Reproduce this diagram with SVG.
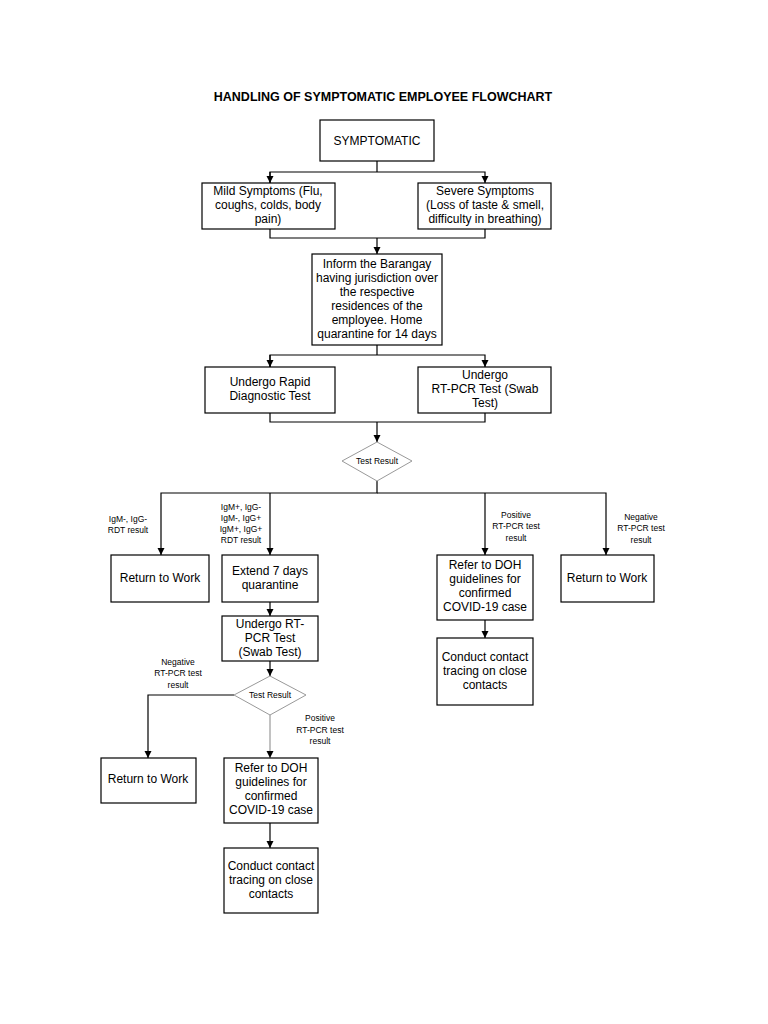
<svg xmlns="http://www.w3.org/2000/svg" width="768" height="1024" viewBox="0 0 768 1024">
<style>
.b{fill:#fff;stroke:#000;stroke-width:1.2}
.t{font-family:"Liberation Sans",Arial,sans-serif;font-size:12px;text-anchor:middle;fill:#000}
.s{font-family:"Liberation Sans",Arial,sans-serif;font-size:8.5px;text-anchor:middle;fill:#000}
.c{fill:none;stroke:#000;stroke-width:1.2}
.g{stroke:#999}
</style>
<defs><marker id="a" viewBox="0 0 10 10" refX="10" refY="5" markerWidth="6" markerHeight="6" orient="auto"><path d="M0,0L10,5L0,10z" fill="#000"/></marker></defs>
<rect width="768" height="1024" fill="#fff"/>
<text x="383" y="101" style="font-family:'Liberation Sans',Arial,sans-serif;font-size:12.5px;font-weight:bold" text-anchor="middle">HANDLING OF SYMPTOMATIC EMPLOYEE FLOWCHART</text>
<g id="connectors">
<path class="c" d="M377,161V172H270V183M377,172H485V183" marker-end="url(#a)"/>
<path class="c" d="M270,172V183" marker-end="url(#a)"/>
<path class="c" d="M270,229V238H485V229M377,238V254" marker-end="url(#a)"/>
<path class="c" d="M377,345V355H270V367M377,355H485V367" marker-end="url(#a)"/>
<path class="c" d="M270,355V367" marker-end="url(#a)"/>
<path class="c" d="M270,413V422H485V413M377,422V442" marker-end="url(#a)"/>
<path class="c" d="M377,481V493H161V555" marker-end="url(#a)"/>
<path class="c" d="M377,493H606V555" marker-end="url(#a)"/>
<path class="c" d="M270,493V555" marker-end="url(#a)"/>
<path class="c" d="M485,493V555" marker-end="url(#a)"/>
<path class="c" d="M270,602V616" marker-end="url(#a)"/>
<path class="c" d="M270,661V676" marker-end="url(#a)"/>
<path class="c" d="M234,695H148V758" marker-end="url(#a)"/>
<path class="c g" d="M270,715V758" marker-end="url(#a)"/>
<path class="c" d="M270,823V848" marker-end="url(#a)"/>
<path class="c" d="M485,620V638" marker-end="url(#a)"/>
</g>
<g id="symptomatic"><rect class="b" x="320" y="120" width="114" height="41"/><text class="t" x="377" y="145">SYMPTOMATIC</text></g>
<g id="mild"><rect class="b" x="202" y="183" width="133" height="46"/><text class="t" x="268" y="195">Mild Symptoms (Flu,</text><text class="t" x="268" y="209">coughs, colds, body</text><text class="t" x="268" y="223">pain)</text></g>
<g id="severe"><rect class="b" x="418" y="183" width="133" height="46"/><text class="t" x="485" y="195">Severe Symptoms</text><text class="t" x="485" y="209">(Loss of taste &amp; smell,</text><text class="t" x="485" y="223">difficulty in breathing)</text></g>
<g id="inform"><rect class="b" x="312" y="254" width="130" height="91"/><text class="t" x="377" y="268">Inform the Barangay</text><text class="t" x="377" y="282">having jurisdiction over</text><text class="t" x="377" y="296">the respective</text><text class="t" x="377" y="310">residences of the</text><text class="t" x="377" y="324">employee. Home</text><text class="t" x="377" y="338">quarantine for 14 days</text></g>
<g id="rapid"><rect class="b" x="205" y="367" width="130" height="46"/><text class="t" x="270" y="386">Undergo Rapid</text><text class="t" x="270" y="400">Diagnostic Test</text></g>
<g id="rtpcr"><rect class="b" x="418" y="367" width="133" height="46"/><text class="t" x="485" y="379">Undergo</text><text class="t" x="485" y="393">RT-PCR Test (Swab</text><text class="t" x="485" y="407">Test)</text></g>
<g id="dec1"><path d="M342,461L377,442L412,461L377,481z" fill="#fff" stroke="#999" stroke-width="1"/><text class="s" x="377" y="464">Test Result</text></g>
<text class="s" x="128" y="522">IgM-, IgG-</text><text class="s" x="128" y="533">RDT result</text>
<text class="s" x="241" y="510">IgM+, IgG-</text><text class="s" x="241" y="521">IgM-, IgG+</text><text class="s" x="241" y="532">IgM+, IgG+</text><text class="s" x="241" y="543">RDT result</text>
<text class="s" x="516" y="518">Positive</text><text class="s" x="516" y="529">RT-PCR test</text><text class="s" x="516" y="541">result</text>
<text class="s" x="641" y="520">Negative</text><text class="s" x="641" y="531">RT-PCR test</text><text class="s" x="641" y="543">result</text>
<g id="rtw1"><rect class="b" x="111" y="555" width="98" height="47"/><text class="t" x="160" y="582">Return to Work</text></g>
<g id="extend"><rect class="b" x="222" y="555" width="96" height="47"/><text class="t" x="270" y="575">Extend 7 days</text><text class="t" x="270" y="589">quarantine</text></g>
<g id="refer1"><rect class="b" x="437" y="555" width="96" height="65"/><text class="t" x="485" y="569">Refer to DOH</text><text class="t" x="485" y="583">guidelines for</text><text class="t" x="485" y="597">confirmed</text><text class="t" x="485" y="611">COVID-19 case</text></g>
<g id="rtw2"><rect class="b" x="561" y="555" width="93" height="47"/><text class="t" x="607" y="582">Return to Work</text></g>
<g id="undergo2"><rect class="b" x="222" y="616" width="96" height="45"/><text class="t" x="270" y="628">Undergo RT-</text><text class="t" x="270" y="642">PCR Test</text><text class="t" x="270" y="656">(Swab Test)</text></g>
<g id="dec2"><path d="M234,695L270,676L306,695L270,715z" fill="#fff" stroke="#999" stroke-width="1"/><text class="s" x="270" y="698">Test Result</text></g>
<text class="s" x="178" y="665">Negative</text><text class="s" x="178" y="676">RT-PCR test</text><text class="s" x="178" y="688">result</text>
<text class="s" x="320" y="721">Positive</text><text class="s" x="320" y="733">RT-PCR test</text><text class="s" x="320" y="744">result</text>
<g id="rtw3"><rect class="b" x="101" y="758" width="95" height="45"/><text class="t" x="148" y="783">Return to Work</text></g>
<g id="refer2"><rect class="b" x="224" y="758" width="94" height="65"/><text class="t" x="271" y="772">Refer to DOH</text><text class="t" x="271" y="786">guidelines for</text><text class="t" x="271" y="800">confirmed</text><text class="t" x="271" y="814">COVID-19 case</text></g>
<g id="conduct2"><rect class="b" x="224" y="848" width="94" height="65"/><text class="t" x="271" y="870">Conduct contact</text><text class="t" x="271" y="884">tracing on close</text><text class="t" x="271" y="898">contacts</text></g>
<g id="conduct1"><rect class="b" x="437" y="638" width="96" height="67"/><text class="t" x="485" y="661">Conduct contact</text><text class="t" x="485" y="675">tracing on close</text><text class="t" x="485" y="689">contacts</text></g>
</svg>
